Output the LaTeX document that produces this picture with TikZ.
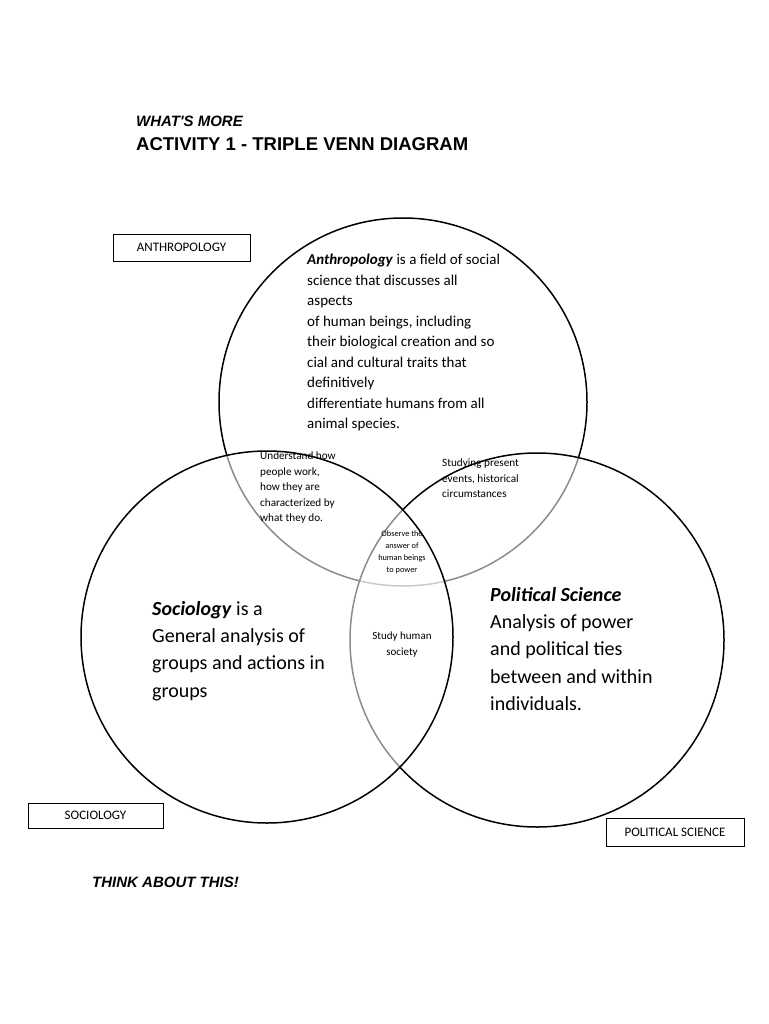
\documentclass[tikz,border=0pt]{standalone}
\usepackage{fontspec}
\setmainfont{Carlito}
\newfontfamily\arialfont{Liberation Sans}
\usepackage{tikz}

\tikzset{
	venn/.style={draw=black, line width=1.5pt, fill=white, fill opacity=0.55},
	labelbox/.style={draw=black, line width=0.8pt, inner sep=0pt, font=\fontsize{13}{14}\selectfont},
	bigtext/.style={anchor=north west, inner sep=0pt, align=left, font=\fontsize{20}{27.3}\selectfont},
	smalltext/.style={anchor=north west, inner sep=0pt, align=left, font=\fontsize{11.2}{15.5}\selectfont}
}

\begin{document}
\begin{tikzpicture}[x=1pt,y=-1pt]
	\useasboundingbox (0,0) rectangle (768,1024);
	
	%TITLES
	\node[anchor=base west, inner sep=0pt, font=\arialfont\bfseries\itshape\fontsize{15}{18}\selectfont] (more) at (136,127) {WHAT'S MORE};
	\node[anchor=base west, inner sep=0pt, font=\arialfont\bfseries\fontsize{18.5}{22}\selectfont] (title) at (136,151) {ACTIVITY 1 - TRIPLE VENN DIAGRAM};
	
	%CIRCLES -- order matters, later fills grey the lines below
	\draw[venn] (403,402) circle[radius=184pt];
	\draw[venn] (537,640) circle[radius=187pt];
	\draw[venn] (267,637) circle[radius=186pt];
	
	%LABEL BOXES
	\node[labelbox, minimum width=137pt, minimum height=27pt] (anthbox) at (181.5,247.5) {ANTHROPOLOGY};
	\node[labelbox, minimum width=135pt, minimum height=25pt] (socbox) at (95.5,815.5) {SOCIOLOGY};
	\node[labelbox, minimum width=138pt, minimum height=28pt] (polbox) at (675,832) {POLITICAL SCIENCE};
	
	%MAIN TEXTS
	\node[anchor=north west, inner sep=0pt, align=left, font=\fontsize{15}{20.5}\selectfont] (anthtext) at (307,254)
		{\textbf{\textit{Anthropology}} is a field of social\\science that discusses all\\aspects\\of human beings, including\\their biological creation and so\\cial and cultural traits that\\definitively\\differentiate humans from all\\animal species.};
	\node[bigtext] (soctext) at (152,601) {\textbf{\textit{Sociology}} is a\\General analysis of\\groups and actions in\\groups};
	\node[bigtext] (poltext) at (490,587) {\textbf{\textit{Political Science}}\\Analysis of power\\and political ties\\between and within\\individuals.};
	
	%OVERLAPS
	\node[smalltext] (anthsoc) at (260,452) {Understand how\\people work,\\how they are\\characterized by\\what they do.};
	\node[smalltext] (anthpol) at (442,459) {Studying present\\events, historical\\circumstances};
	\node[anchor=north, inner sep=0pt, align=center, font=\fontsize{8.3}{12}\selectfont] (allthree) at (402,531) {Observe the\\answer of\\human beings\\to power};
	\node[anchor=north, inner sep=0pt, align=center, font=\fontsize{11}{16}\selectfont] (socpol) at (402,632) {Study human\\society};
	
	%FOOTER
	\node[anchor=base west, inner sep=0pt, font=\arialfont\bfseries\itshape\fontsize{15}{18}\selectfont] (think) at (92,887) {THINK ABOUT THIS!};
\end{tikzpicture}
\end{document}
